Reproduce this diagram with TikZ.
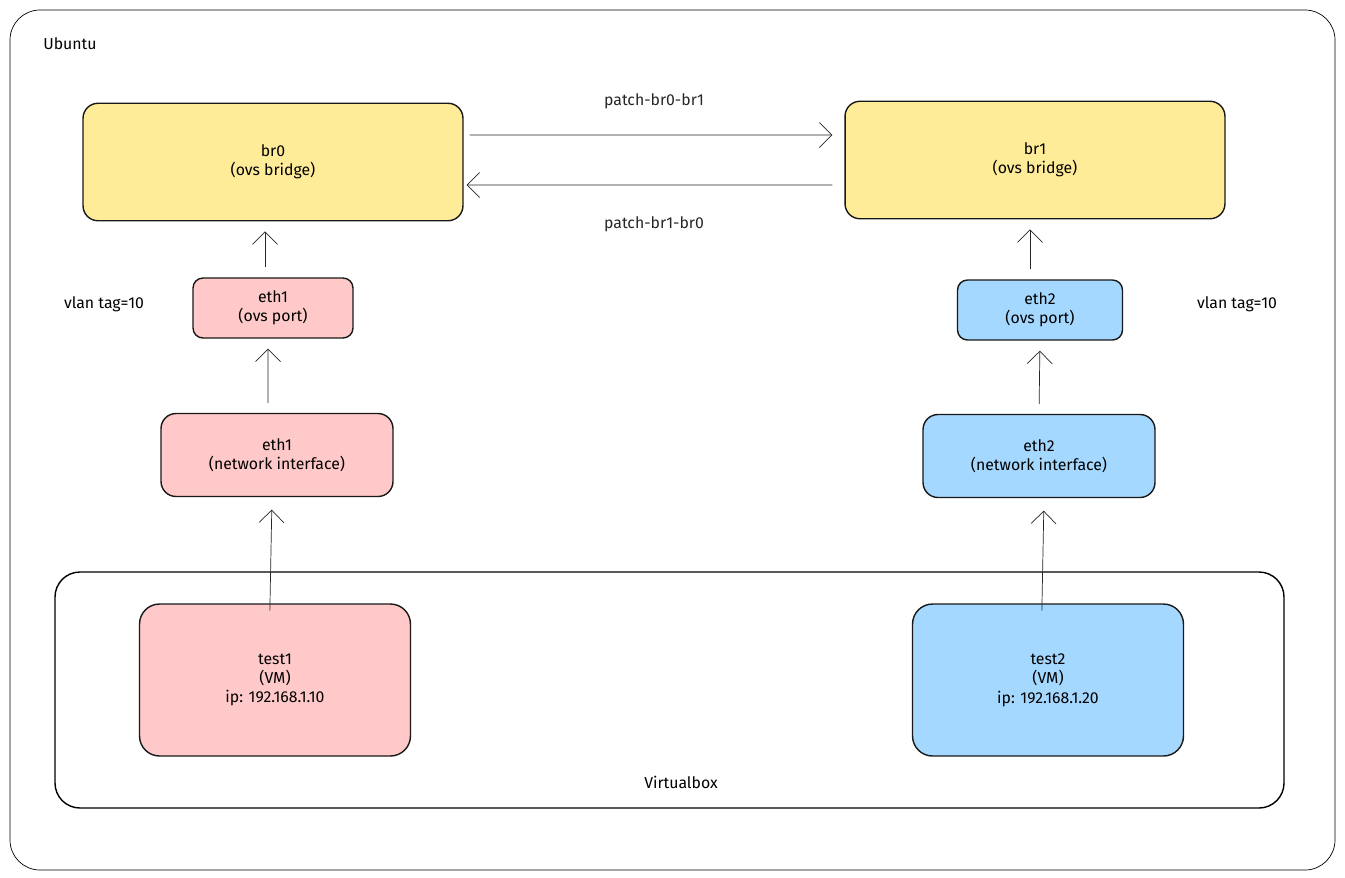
\documentclass[tikz,border=0pt]{standalone}
\usepackage{fontspec}
\setmainfont{Fira Sans}
\usetikzlibrary{positioning, arrows.meta}

\definecolor{brfill}{HTML}{FFEC99}
\definecolor{redfill}{HTML}{FFC9C9}
\definecolor{bluefill}{HTML}{A5D8FF}

\begin{document}
\begin{tikzpicture}
    [
        x=0.02cm, y=-0.02cm, font=\small,
        box/.style={draw=black!90, thick, rounded corners=3mm, align=center, inner sep=0pt},
        bridge_node/.style={box, fill=brfill, minimum width=7.6cm, minimum height=2.35cm},
        port_node/.style={box, rounded corners=2mm, minimum width=3.2cm, minimum height=1.2cm},
        nic_node/.style={box, minimum width=4.64cm, minimum height=1.66cm},
        vm_node/.style={box, rounded corners=4mm, minimum width=5.42cm, minimum height=3.04cm},
        link/.style={-{Straight Barb[length=2.5mm]}, thin, color=black!85},
    ]
        \useasboundingbox (0,0) rectangle (1345,877);
        \draw[thin, rounded corners=6mm] (10,10) rectangle (1335,870);
        \node (ubuntu) at (70,44) {Ubuntu};
        \draw[thick, rounded corners=5mm] (55,572) rectangle (1284,808);
        \node (vbox) at (681,782) {Virtualbox};
        \node[bridge_node] (br0) at (273,162) {br0\\(ovs bridge)};
        \node[bridge_node] (br1) at (1035,160) {br1\\(ovs bridge)};
        \node[port_node, fill=redfill] (port1) at (273,308) {eth1\\(ovs port)};
        \node[port_node, fill=bluefill, minimum width=3.3cm] (port2) at (1040,310) {eth2\\(ovs port)};
        \node[nic_node, fill=redfill] (nic1) at (277,455) {eth1\\(network interface)};
        \node[nic_node, fill=bluefill] (nic2) at (1039,456) {eth2\\(network interface)};
        \node[vm_node, fill=redfill] (vm1) at (275,680) {test1\\(VM)\\ip: 192.168.1.10};
        \node[vm_node, fill=bluefill] (vm2) at (1048,680) {test2\\(VM)\\ip: 192.168.1.20};
        \node (vlan1) at (104,304) {vlan tag=10};
        \node (vlan2) at (1237,304) {vlan tag=10};
        \draw[link, shorten <=1.2mm, shorten >=2.4mm] ([yshift=0.54cm]br0.east) -- node[above=4mm] {patch-br0-br1} ([yshift=0.5cm]br1.west);
        \draw[link, shorten <=2.4mm, shorten >=0.6mm] ([yshift=-0.5cm]br1.west) -- node[below=5mm] {patch-br1-br0} ([yshift=-0.46cm]br0.east);
        \draw[link, shorten <=2mm, shorten >=2mm] ([xshift=-0.16cm]port1.north) -- ([xshift=-0.16cm]br0.south);
        \draw[link, shorten <=2mm, shorten >=2mm] ([xshift=-0.18cm]nic1.north) -- ([xshift=-0.1cm]port1.south);
        \draw[link, shorten <=-1.5mm, shorten >=2.5mm] ([xshift=-0.1cm]vm1.north) -- ([xshift=-0.1cm]nic1.south);
        \draw[link, shorten <=2mm, shorten >=2mm] ([xshift=-0.2cm]port2.north) -- ([xshift=-0.2cm]port2.north |- br1.south);
        \draw[link, shorten <=2mm, shorten >=2mm] (nic2.north) -- (port2.south);
        \draw[link, shorten <=-1.5mm, shorten >=2.5mm] ([xshift=-0.12cm]vm2.north) -- ([xshift=0.1cm]nic2.south);
    \end{tikzpicture}
\end{document}
